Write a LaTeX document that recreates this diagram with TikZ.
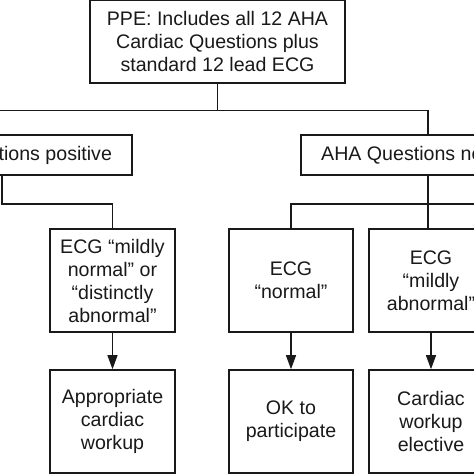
\documentclass[tikz,border=0pt]{standalone}
\usepackage{fontspec}
\setmainfont{Liberation Sans}
\usetikzlibrary{arrows.meta}
\begin{document}
\begin{tikzpicture}[x=1pt,y=-1pt,
  box/.style={draw=black!90,line width=1.6pt,rectangle,inner sep=0pt,align=center,
    font=\fontsize{19.6}{23}\selectfont,text=black!90},
  conn/.style={draw=black!90,line width=1.3pt},
  arr/.style={conn,-{Triangle[length=14pt,width=10pt]}}]
\useasboundingbox (0,0) rectangle (474,474);
\clip (0,0) rectangle (474,474);
\node[box,minimum width=255pt,minimum height=82.5pt] (top) at (217.5,41.75)
  {PPE: Includes all 12 AHA\\Cardiac Questions plus\\standard 12 lead ECG};
\node[box,minimum width=246pt,minimum height=40pt] (lbox) at (9,155) {AHA Questions positive};
\node[box,minimum width=254pt,minimum height=40pt] (rbox) at (428,155) {AHA Questions negative};
\node[box,minimum width=125pt,minimum height=103pt] (ecg1) at (112.5,280.5)
  {ECG “mildly\\normal” or\\“distinctly\\abnormal”};
\node[box,minimum width=124pt,minimum height=103pt] (ecg2) at (291,280.5)
  {ECG\\“normal”};
\node[box,minimum width=124pt,minimum height=103pt] (ecg3) at (431,280.5)
  {ECG\\“mildly\\abnormal”};
\node[box,minimum width=125pt,minimum height=103pt] (out1) at (112.5,421.5)
  {Appropriate\\cardiac\\workup};
\node[box,minimum width=124pt,minimum height=103pt] (out2) at (291,421.5)
  {OK to\\participate};
\node[box,minimum width=124pt,minimum height=103pt] (out3) at (431,421.5)
  {Cardiac\\workup\\elective};
\coordinate (lstem) at (-20,135);
\coordinate (lb) at (2,175);
\coordinate (rend) at (480,204);
\draw[conn] (top.south) -- ++(0,27) coordinate (j0);
\draw[conn] (j0) -| (lstem);
\draw[conn] (j0) -| (rbox.north);
\draw[conn] (lb) -- ++(0,29) -| (ecg1.north);
\draw[conn] (rbox.south) -- ++(0,29) coordinate (j1);
\draw[conn] (j1) -- (j1 |- ecg3.north);
\draw[conn] (ecg2.north) |- (rend);
\draw[arr] (ecg1.south) -- (out1.north);
\draw[arr] (ecg2.south) -- (out2.north);
\draw[arr] (ecg3.south) -- (out3.north);
\end{tikzpicture}
\end{document}
